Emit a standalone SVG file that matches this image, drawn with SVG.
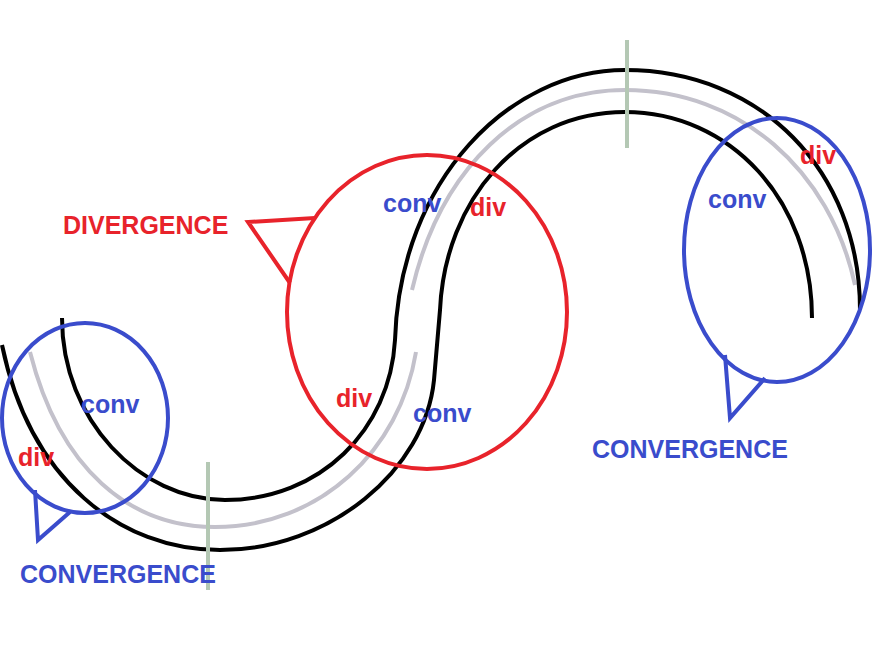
<svg xmlns="http://www.w3.org/2000/svg" width="872" height="652" viewBox="0 0 872 652">
<style>
.k{fill:none;stroke:#000;stroke-width:4}
.g{fill:none;stroke:#c3c1cb;stroke-width:4}
.t{fill:none;stroke:#b4c8b4;stroke-width:4}
.r{fill:none;stroke:#e8232b;stroke-width:4}
.b{fill:none;stroke:#3a4ccc;stroke-width:4}
text{font-family:"Liberation Sans",Arial,sans-serif;font-weight:bold;font-size:25px}
.tr{fill:#e8232b}.tb{fill:#3a4ccc}
</style>
<rect width="872" height="652" fill="#fff"/>
<g id="tube">
<path class="g" d="M30,352 C60,470 130,527 215,527 C320,527 400,450 416,352"/>
<path class="g" d="M412,290 C440,170 520,90 625,90 C740,90 830,170 855,285"/>
<path class="k" d="M2,345 C30,480 120,550 220,550 C330,550 425,470 434,380 L440,310 C445,200 520,112 625,112 C730,112 812,200 812,318"/>
<path class="k" d="M62,318 C62,420 140,500 225,500 C320,500 390,430 395,340 C400,180 510,70 625,70 C760,70 860,170 860,310"/>
<path class="t" d="M208,462 V590 M627,40 V148"/>
</g>
<g id="divergence">
<ellipse class="r" cx="427" cy="312" rx="140" ry="157"/>
<path class="r" d="M315,218 L248,222 L290,283"/>
<text class="tr" x="63" y="234">DIVERGENCE</text>
</g>
<g id="convergence-left">
<ellipse class="b" cx="85" cy="418" rx="83" ry="95"/>
<path class="b" d="M70,512 L38,540 L35,490"/>
<text class="tb" x="20" y="583">CONVERGENCE</text>
</g>
<g id="convergence-right">
<ellipse class="b" cx="777" cy="250" rx="93" ry="132"/>
<path class="b" d="M725,355 L730,418 L765,378"/>
<text class="tb" x="592" y="458">CONVERGENCE</text>
</g>
<g id="labels">
<text class="tb" x="81" y="413">conv</text>
<text class="tr" x="18" y="466">div</text>
<text class="tb" x="383" y="212">conv</text>
<text class="tr" x="470" y="216">div</text>
<text class="tr" x="336" y="407">div</text>
<text class="tb" x="413" y="422">conv</text>
<text class="tb" x="708" y="208">conv</text>
<text class="tr" x="800" y="164">div</text>
</g>
</svg>
